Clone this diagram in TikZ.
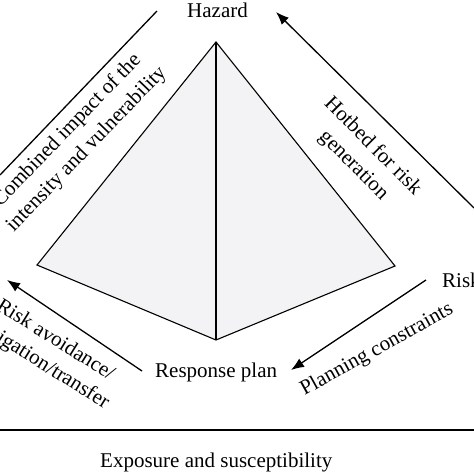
\documentclass[tikz,border=0pt]{standalone}
\usepackage{fontspec}
\setmainfont{Liberation Serif}
\usetikzlibrary{arrows.meta}
\begin{document}
\begin{tikzpicture}[x=1pt,y=-1pt,
  lbl/.style={inner sep=0pt,font=\fontsize{21}{27}\selectfont},
  rlbl/.style={lbl,align=center},
  edge/.style={line width=1.1pt,line join=miter},
  arr/.style={line width=1.3pt,-{Latex[length=13pt,width=10pt]}}]
\useasboundingbox (0,0) rectangle (474,474);
% pyramid
\coordinate (apex) at (216,42);
\coordinate (lv) at (37,265);
\coordinate (bv) at (216,340);
\coordinate (rv) at (395,266);
\filldraw[edge,fill={rgb,255:red,243;green,243;blue,245}] (apex) -- (lv) -- (bv) -- (rv) -- cycle;
\draw[edge] (apex) -- (bv);
% labels
\node[lbl,anchor=base west] (hazard) at (187,17) {Hazard};
\node[lbl,anchor=base west] (risk) at (442,287) {Risk};
\node[lbl,anchor=base west] (resp) at (155,377) {Response plan};
\node[lbl,anchor=base west] (expo) at (100,467) {Exposure and susceptibility};
\node[rlbl,rotate=46] (comb) at (77,140) {Combined impact of the\\intensity and vulnerability};
\node[rlbl,rotate=-45] (hot) at (363,156) {Hotbed for risk\\generation};
\node[rlbl,rotate=-32] (avoid) at (48,352) {Risk avoidance/\\mitigation/transfer};
\node[lbl,rotate=29] (plan) at (377,350) {Planning constraints};
% connectors
\coordinate (l1) at (0,175);
\coordinate (l2) at (157,11);
\draw[line width=1.3pt] (l1) -- (l2);
\coordinate (r1) at (474,208);
\coordinate (r2) at (276,12);
\draw[arr] (r1) -- (r2);
\coordinate (a1) at (142,371);
\coordinate (a2) at (7,280);
\draw[arr] (a1) -- (a2);
\coordinate (p1) at (426,280);
\coordinate (p2) at (291,370);
\draw[arr] (p1) -- (p2);
\coordinate (h1) at (0,430);
\coordinate (h2) at (474,430);
\draw[line width=1.8pt] (h1) -- (h2);
\end{tikzpicture}
\end{document}
